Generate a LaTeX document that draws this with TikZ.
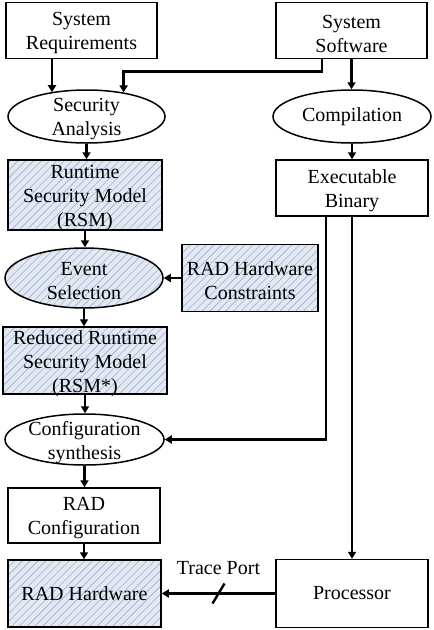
\documentclass[tikz,border=0pt]{standalone}
\usepackage{fontspec}
\setmainfont{Liberation Serif}
\usetikzlibrary{arrows.meta,shapes.geometric,patterns.meta,calc}
\definecolor{hatchfill}{HTML}{E2E9F4}
\definecolor{hatchline}{HTML}{A2ADC2}
\begin{document}
\begin{tikzpicture}[x=1pt,y=-1pt,
  every node/.style={font=\fontsize{20}{24}\selectfont, align=center, inner sep=0pt},
  box/.style={draw, line width=1.5pt, rectangle},
  ellip/.style={draw, line width=1.5pt, ellipse},
  lbl/.style={yshift=-3pt},
  hatched/.style={preaction={fill=hatchfill},
    preaction={pattern={Lines[angle=45,distance=5.5pt,line width=0.6pt]}, pattern color=hatchline}},
  arr/.style={line width=2.8pt, -{Triangle[length=7pt,width=8pt]}},
  plain/.style={line width=2.4pt}]
\useasboundingbox (0,0) rectangle (434,630);

\node[box, minimum width=151pt, minimum height=56pt] (sysreq) at (81.5,30.5) {};
\node[lbl] at (sysreq) {System\\Requirements};
\node[box, minimum width=151pt, minimum height=56pt] (syssoft) at (351.5,30.5) {};
\node[lbl] at (syssoft) {System\\Software};

\node[ellip, minimum width=157pt, minimum height=53pt] (secana) at (86.5,116.5) {};
\node[lbl] at (secana) {Security\\Analysis};
\node[ellip, minimum width=158pt, minimum height=53pt] (comp) at (352,116.5) {};
\node at (comp) {Compilation};

\node[box, hatched, minimum width=154pt, minimum height=70pt] (rsm) at (85,195) {};
\node[lbl] at (rsm) {Runtime\\Security Model\\(RSM)};
\node[box, minimum width=152pt, minimum height=56pt] (exec) at (352,188) {};
\node[lbl] at (exec) {Executable\\Binary};

\node[ellip, hatched, minimum width=158pt, minimum height=60pt] (evsel) at (84,278) {};
\node[lbl] at (evsel) {Event\\Selection};
\node[box, hatched, minimum width=136pt, minimum height=67pt] (radc) at (250,278) {};
\node[lbl] at (radc) {RAD Hardware\\Constraints};

\node[box, hatched, minimum width=164pt, minimum height=67pt] (rrsm) at (85,360.5) {};
\node[lbl] at (rrsm) {Reduced Runtime\\Security Model\\(RSM*)};

\node[ellip, minimum width=159pt, minimum height=51pt] (conf) at (84.5,439.5) {};
\node[lbl] at (conf) {Configuration\\synthesis};

\node[box, minimum width=152pt, minimum height=55pt] (radconf) at (84,515.5) {};
\node[lbl] at (radconf) {RAD\\Configuration};
\node[box, hatched, minimum width=153pt, minimum height=67pt] (radhw) at (84.5,593.5) {RAD Hardware};
\node[box, minimum width=152pt, minimum height=68pt] (proc) at (352,593.5) {Processor};

% connectors
\draw[arr] ([xshift=-29.5pt]sysreq.south) -- ([xshift=-29.5pt]sysreq.south |- secana.146);
\draw[arr] ([xshift=-29.5pt]syssoft.south) -- ++(0,12) -| (secana.33);
\draw[arr] (syssoft.south) -- (syssoft.south |- comp.north);
\draw[arr] (secana.south) -- (secana.south |- rsm.north);
\draw[arr] (comp.south) -- (comp.south |- exec.north);
\draw[arr] (rsm.south) -- (rsm.south |- evsel.north);
\draw[arr] (radc.west) -- (evsel.east);
\draw[arr] (evsel.south) -- (evsel.south |- rrsm.north);
\draw[arr] (rrsm.south) -- (rrsm.south |- conf.north);
\draw[arr] ([xshift=-26pt]exec.south) |- (conf.east);
\draw[arr] (exec.south) -- (proc.north);
\draw[arr] (conf.south) -- (conf.south |- radconf.north);
\draw[arr] (radconf.south) -- (radconf.south |- radhw.north);
\draw[arr] (proc.west) -- (radhw.east) coordinate[pos=0.5] (tp);
\draw[plain] ($(tp)+(-6,10)$) -- ($(tp)+(6,-10)$);
\node (tpl) at ($(tp)+(0,-25)$) {Trace Port};
\end{tikzpicture}
\end{document}
